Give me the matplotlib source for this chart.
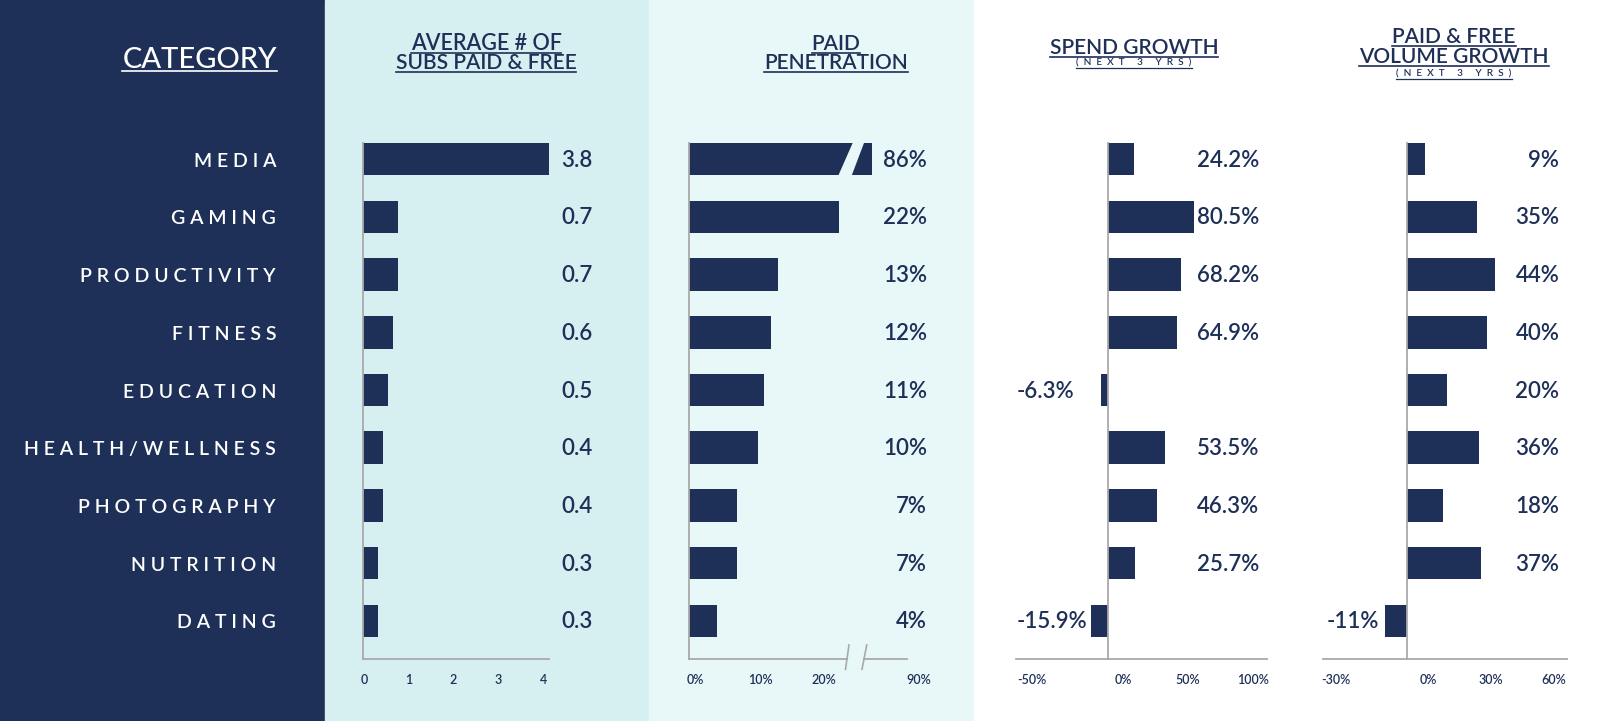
import numpy as np
import matplotlib.pyplot as plt
from matplotlib.patches import Rectangle, Polygon
from matplotlib.lines import Line2D
from matplotlib.transforms import blended_transform_factory

plt.rcParams['font.family'] = ['Lato', 'DejaVu Sans']

# data
categories = ['MEDIA', 'GAMING', 'PRODUCTIVITY', 'FITNESS', 'EDUCATION',
              'HEALTH/WELLNESS', 'PHOTOGRAPHY', 'NUTRITION', 'DATING']
avg_subs = [3.8, 0.7, 0.7, 0.6, 0.5, 0.4, 0.4, 0.3, 0.3]
paid_penetration = [86, 22, 13, 12, 11, 10, 7, 7, 4]
spend_growth = [24.2, 80.5, 68.2, 64.9, -6.3, 53.5, 46.3, 25.7, -15.9]
volume_growth = [9, 35, 44, 40, 20, 36, 18, 37, -11]

avg_tick_labels = ['0', '1', '2', '3', '4']
pen_tick_labels = ['0%', '10%', '20%', '90%']
spend_tick_labels = ['-50%', '0%', '50%', '100%']
volume_tick_labels = ['-30%', '0%', '30%', '60%']

NAVY = '#1e3057'
TEAL = '#d6f0f1'
PALE = '#e8f7f8'
GREY = '#a9a9a9'

W, H = 1600, 721
TOP, BASE = 143, 659.3      # pixel rows of the plot area
ROW_PX = 57.7
BAR_H = 0.563
CAP = 0.13                  # half cap height in row units, to centre caps on bars

fig = plt.figure(figsize=(W / 100, H / 100), dpi=100, facecolor='white')
renderer = fig.canvas.get_renderer()

# panel backgrounds
for x0, x1, c in [(0, 324.5, NAVY), (324.5, 649, TEAL), (649, 972.5, PALE)]:
    fig.add_artist(Rectangle((x0 / W, 0), (x1 - x0) / W, 1, color=c,
                             transform=fig.transFigure, zorder=-10))

n = len(categories)
ypos = np.arange(n)
ylim = ((BASE - TOP) / ROW_PX - BAR_H / 2, -BAR_H / 2)


def make_ax(left_px, right_px):
    ax = fig.add_axes([left_px / W, 1 - BASE / H, (right_px - left_px) / W, (BASE - TOP) / H])
    ax.patch.set_visible(False)
    ax.set_ylim(*ylim)
    ax.set_yticks([])
    for s in ['top', 'right']:
        ax.spines[s].set_visible(False)
    for s in ['left', 'bottom']:
        ax.spines[s].set_color(GREY)
        ax.spines[s].set_linewidth(1.3)
    ax.tick_params(axis='x', length=0, pad=10.5, labelsize=9, labelcolor=NAVY)
    return ax


def set_ticks(ax, values, labels):
    ax.set_xticks(values, labels, fontweight='semibold')


def linear_panel(zero_px, ppu, left_px, right_px, tick_px, tick_labels):
    ax = make_ax(left_px, right_px)
    ax.set_xlim((left_px - zero_px) / ppu, (right_px - zero_px) / ppu)
    ax.spines['left'].set_position(('data', 0))
    # tick labels sit where the original puts them
    set_ticks(ax, [(p - zero_px) / ppu for p in tick_px], tick_labels)
    return ax


def value_labels(ax, vals, fmt, pos_px, pos_ha, neg_px=None):
    tr = blended_transform_factory(fig.transFigure, ax.transData)
    for y, v in zip(ypos, vals):
        if v < 0 and neg_px is not None:
            x, ha = neg_px, 'left'
        else:
            x, ha = pos_px, pos_ha
        ax.text(x / W, y + CAP, fmt(v), transform=tr, ha=ha,
                va='baseline', fontsize=16, color=NAVY, fontweight='semibold')


# panel 1: average number of subs
ax1 = linear_panel(363.3, 48.9, 363.3, 549.1, [364, 409, 453, 498, 544], avg_tick_labels)
ax1.barh(ypos, avg_subs, height=BAR_H, color=NAVY, lw=0)
value_labels(ax1, avg_subs, lambda v: f'{v:.1f}', 561, 'left')

# panel 2: paid penetration, broken axis
LO, HI, GAP, SLOPE = 23.0, 85.5, 2.93, 1.613


def fwd(x):
    x = np.asarray(x, dtype=float)
    mid = LO + (x - LO) / (HI - LO) * GAP
    right = LO + GAP + (x - HI) * SLOPE
    return np.where(x <= LO, x, np.where(x <= HI, mid, right))


def inv(y):
    y = np.asarray(y, dtype=float)
    mid = LO + (y - LO) / GAP * (HI - LO)
    right = HI + (y - LO - GAP) / SLOPE
    return np.where(y <= LO, y, np.where(y <= LO + GAP, mid, right))


PX2 = 6.82
ax2 = make_ax(689.3, 689.3 + float(fwd(91)) * PX2)
ax2.set_xscale('function', functions=(fwd, inv))
ax2.set_xlim(0, 91)
ax2.spines['bottom'].set_visible(False)
set_ticks(ax2, [float(inv((p - 689.3) / PX2)) for p in [695, 760, 824, 919]], pen_tick_labels)
ax2.barh(ypos, paid_penetration, height=BAR_H, color=NAVY, lw=0)
value_labels(ax2, paid_penetration, lambda v: f'{v}%', 927, 'right')


def fig_line(xs, ys, **kw):
    fig.add_artist(Line2D([x / W for x in xs], [1 - y / H for y in ys],
                          transform=fig.transFigure, zorder=5, **kw))


fig_line([689.3, 846.7], [BASE, BASE], color=GREY, lw=1.3)
fig_line([864, 906.7], [BASE, BASE], color=GREY, lw=1.3)
fig_line([849, 845.5], [645, 669.3], color=GREY, lw=1.2)
fig_line([866.7, 862], [645, 669.3], color=GREY, lw=1.2)
gap = [(837.9, 176.5), (851.3, 176.5), (864.4, 142), (853.1, 142)]
fig.add_artist(Polygon([(x / W, 1 - y / H) for x, y in gap], closed=True,
                       facecolor=PALE, edgecolor='none', transform=fig.transFigure, zorder=5))

# panel 3: spend growth
ax3 = linear_panel(1107.7, 1.07, 1016, 1266.7, [1032, 1123, 1188, 1253], spend_tick_labels)
ax3.barh(ypos, spend_growth, height=BAR_H, color=NAVY, lw=0)
value_labels(ax3, spend_growth, lambda v: f'{v:.1f}%', 1259.3, 'right', neg_px=1017)

# panel 4: paid & free volume growth
ax4 = linear_panel(1407, 2.0, 1323.3, 1566.7, [1336, 1428, 1491, 1554], volume_tick_labels)
ax4.barh(ypos, volume_growth, height=BAR_H, color=NAVY, lw=0)
value_labels(ax4, volume_growth, lambda v: f'{v}%', 1559.3, 'right', neg_px=1326.7)

# category names, letter spaced
tr = blended_transform_factory(fig.transFigure, ax1.transData)
for y, c in zip(ypos, categories):
    ax1.text(276 / W, y + CAP, ' '.join(c), transform=tr, ha='right', va='baseline',
             fontsize=14, color='white', fontweight='semibold')


# headers
def underlined(cx, base, s, size, color, weight='semibold', gap=3, lw=1.2):
    t = fig.text(cx / W, 1 - base / H, s, ha='center', va='baseline',
                 fontsize=size, color=color, fontweight=weight)
    bb = t.get_window_extent(renderer)
    fig_line([bb.x0, bb.x1], [base + gap, base + gap], color=color, lw=lw)


underlined(199.5, 68.4, 'CATEGORY', 21, 'white', weight='medium')
underlined(486, 50, 'AVERAGE # OF', 15.5, NAVY)
underlined(486, 69.4, 'SUBS PAID & FREE', 15, NAVY)
underlined(836, 50, 'PAID', 15, NAVY)
underlined(836, 69.4, 'PENETRATION', 15, NAVY)
underlined(1134, 54, 'SPEND GROWTH', 15, NAVY)
underlined(1134, 65.8, '  '.join('(NEXT 3 YRS)'), 7.2, NAVY, gap=2, lw=0.9)
underlined(1454, 43.3, 'PAID & FREE', 15, NAVY)
underlined(1454, 63.3, 'VOLUME GROWTH', 15, NAVY)
underlined(1454, 76.5, '  '.join('(NEXT 3 YRS)'), 7.2, NAVY, gap=2, lw=0.9)

fig.savefig('out.png', dpi=100, facecolor='white')
